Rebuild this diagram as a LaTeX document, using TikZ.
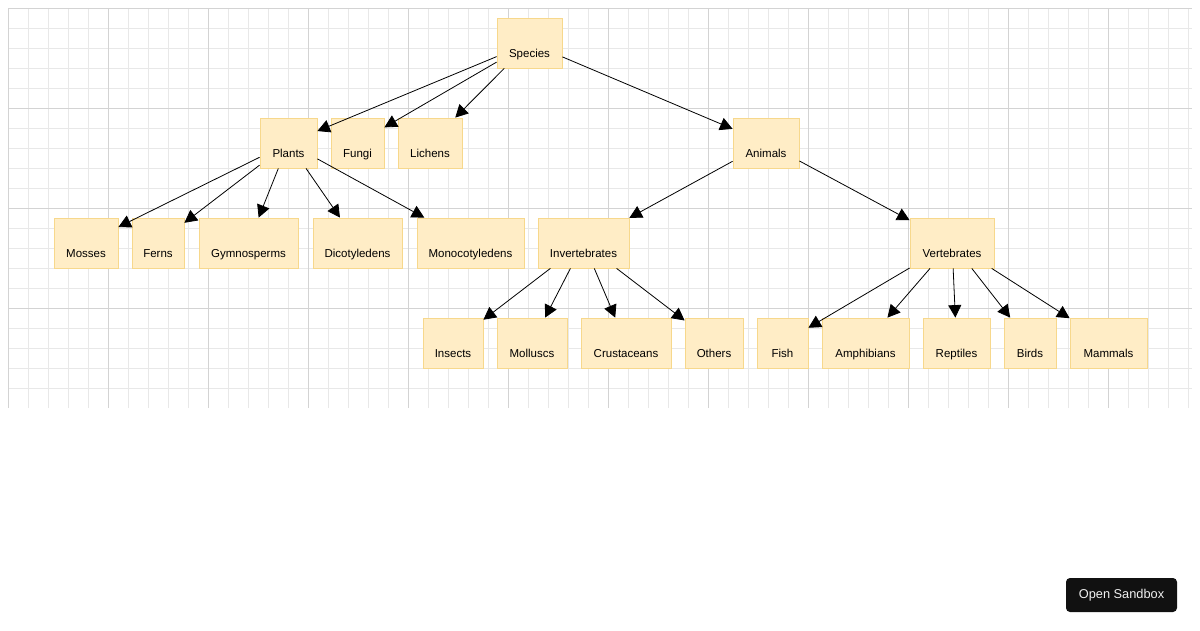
\documentclass[tikz,border=0pt]{standalone}
\usepackage{fontspec}
\setmainfont{Liberation Sans}
\usetikzlibrary{arrows.meta}
\definecolor{boxfill}{HTML}{FFEDC6}
\definecolor{boxline}{HTML}{F7D88C}
\definecolor{minorgrid}{HTML}{E8E8E8}
\definecolor{majorgrid}{HTML}{D3D3D3}
\definecolor{btnfill}{HTML}{111111}
\begin{document}
\begin{tikzpicture}[x=1pt,y=-1pt,
    taxon/.style={draw=boxline,fill=boxfill,line width=0.8pt,inner xsep=0pt,inner ysep=0pt,
      text height=39pt,text depth=11pt,font=\fontsize{11.5}{13}\selectfont},
    link/.style={-{Triangle[length=12.5pt,width=13pt]},line width=0.8pt,black},
    minorline/.style={minorgrid,line width=0.8pt},
    majorline/.style={majorgrid,line width=0.8pt},
    button/.style={fill=btnfill,rounded corners=4pt,text=white!94!black,inner sep=0pt,
      minimum width=111pt,minimum height=34pt,font=\fontsize{12.8}{14}\selectfont}]
  \useasboundingbox (0,0) rectangle (1200,630);

  % background grid
  \foreach \gx in {8,28,...,1188}
    \draw[minorline] (\gx,8) -- (\gx,408);
  \foreach \gy in {8,28,...,388}
    \draw[minorline] (8,\gy) -- (1192,\gy);
  \foreach \gx in {8,108,...,1108}
    \draw[majorline] (\gx,8) -- (\gx,408);
  \foreach \gy in {8,108,...,308}
    \draw[majorline] (8,\gy) -- (1192,\gy);

  \node[taxon,minimum width=65pt] (species) at (529.5,43) {Species};

  \node[taxon,minimum width=57pt] (plants) at (288.5,143) {Plants};
  \node[taxon,minimum width=53pt] (fungi) at (357.5,143) {Fungi};
  \node[taxon,minimum width=64pt] (lichens) at (430,143) {Lichens};
  \node[taxon,minimum width=66pt] (animals) at (766,143) {Animals};
  \foreach \to in {plants,fungi,lichens,animals}
    \draw[link] (species) -- (\to);

  \node[taxon,minimum width=64pt] (mosses) at (86,243) {Mosses};
  \node[taxon,minimum width=52pt] (ferns) at (158,243) {Ferns};
  \node[taxon,minimum width=99pt] (gymno) at (248.5,243) {Gymnosperms};
  \node[taxon,minimum width=89pt] (dicot) at (357.5,243) {Dicotyledens};
  \node[taxon,minimum width=107pt] (monocot) at (470.5,243) {Monocotyledens};
  \foreach \to in {mosses,ferns,gymno,dicot,monocot}
    \draw[link] (plants) -- (\to);

  \node[taxon,minimum width=91pt] (invert) at (583.5,243) {Invertebrates};
  \node[taxon,minimum width=84pt] (vert) at (952,243) {Vertebrates};
  \foreach \to in {invert,vert}
    \draw[link] (animals) -- (\to);

  \node[taxon,minimum width=60pt] (insects) at (453,343) {Insects};
  \node[taxon,minimum width=70pt] (molluscs) at (532,343) {Molluscs};
  \node[taxon,minimum width=90pt] (crust) at (626,343) {Crustaceans};
  \node[taxon,minimum width=58pt] (others) at (714,343) {Others};
  \foreach \to in {insects,molluscs,crust,others}
    \draw[link] (invert) -- (\to);

  \node[taxon,minimum width=51pt] (fish) at (782.5,343) {Fish};
  \node[taxon,minimum width=87pt] (amph) at (865.5,343) {Amphibians};
  \node[taxon,minimum width=67pt] (reptiles) at (956.5,343) {Reptiles};
  \node[taxon,minimum width=52pt] (birds) at (1030,343) {Birds};
  \node[taxon,minimum width=77pt] (mammals) at (1108.5,343) {Mammals};
  \foreach \to in {fish,amph,reptiles,birds,mammals}
    \draw[link] (vert) -- (\to);

  \node[button] (sandbox) at (1121.5,595) {Open Sandbox};
\end{tikzpicture}
\end{document}
